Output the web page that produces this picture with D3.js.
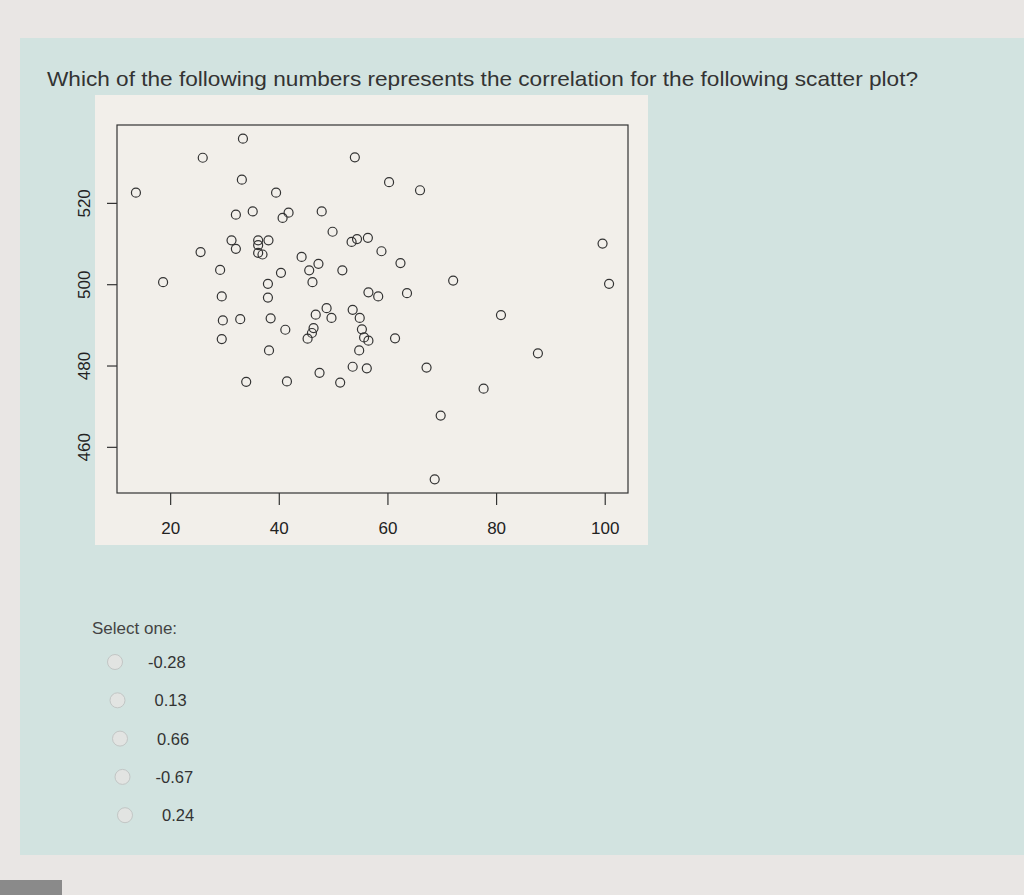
<!DOCTYPE html>
<html><head><meta charset="utf-8">
<script src="https://cdn.jsdelivr.net/npm/d3@7"></script>
<style>body{margin:0;background:#e9e6e4;overflow:hidden}svg{display:block}</style>
</head><body>
<script>
const xValues = [33.4,26.0,54.0,33.2,60.3,66.0,13.7,39.5,32.1,35.2,40.7,41.8,47.9,49.9,31.3,32.1,36.2,38.1,36.2,36.2,37.0,25.6,53.4,54.4,56.4,58.9,44.2,62.4,47.3,29.2,40.4,45.6,51.7,18.7,38.0,46.2,72.1,56.5,58.3,63.6,29.5,38.0,48.8,49.7,46.8,53.6,54.9,55.3,55.7,56.5,46.4,46.1,45.3,61.4,29.7,32.9,38.5,41.2,29.5,38.2,54.8,53.6,56.2,47.5,51.3,34.0,41.5,67.2,99.6,100.8,80.9,87.7,77.7,69.8,68.7];
const yValues = [535.8,531.1,531.2,525.7,525.1,523.1,522.5,522.5,517.1,517.9,516.3,517.6,517.9,512.9,510.8,508.7,510.8,510.8,509.6,507.7,507.3,507.9,510.4,511.1,511.4,508.1,506.7,505.2,505.0,503.5,502.8,503.4,503.4,500.5,500.1,500.5,500.9,498.0,497.0,497.8,497.0,496.7,494.1,491.7,492.5,493.7,491.7,488.9,486.9,486.1,489.2,488.0,486.6,486.7,491.1,491.4,491.6,488.8,486.5,483.7,483.7,479.7,479.3,478.2,475.8,476.0,476.1,479.5,510.0,500.1,492.4,483.0,474.3,467.7,452.0];
const xTicks = [20,40,60,80,100];
const yTicks = [460,480,500,520];
const titleText = "Which of the following numbers represents the correlation for the following scatter plot?";
const promptText = "Select one:";
const options = ["-0.28","0.13","0.66","-0.67","0.24"];

const W = 1024, H = 895;
const svg = d3.select("body").append("svg").attr("width", W).attr("height", H);
const font = "'Liberation Sans', Arial, sans-serif";

// page background
svg.append("rect").attr("x",0).attr("y",0).attr("width",W).attr("height",H).attr("fill","#e9e6e4");
svg.append("rect").attr("x",20).attr("y",38).attr("width",W-20).attr("height",817).attr("fill","#d2e3e0");
svg.append("rect").attr("x",0).attr("y",880).attr("width",62).attr("height",15).attr("fill","#8a8a8a");

svg.append("text").attr("x",47).attr("y",86).attr("font-family",font).attr("font-size",21)
  .attr("textLength",871).attr("lengthAdjust","spacingAndGlyphs")
  .attr("fill","#333").text(titleText);

// plot image background
svg.append("rect").attr("x",95).attr("y",95).attr("width",553).attr("height",450).attr("fill","#f2efea");

// R style padded domain
function pad(ext){const r=ext[1]-ext[0];return [ext[0]-0.04*r, ext[1]+0.04*r];}
const L=117, R=628, T=125, B=493;
const x = d3.scaleLinear().domain(pad(d3.extent(xValues))).range([L,R]);
const y = d3.scaleLinear().domain(pad(d3.extent(yValues))).range([B,T]);

svg.append("rect").attr("x",L).attr("y",T).attr("width",R-L).attr("height",B-T)
  .attr("fill","none").attr("stroke","#333").attr("stroke-width",1.2);

const gx = svg.append("g").attr("transform",`translate(0,${B})`)
  .call(d3.axisBottom(x).tickValues(xTicks).tickSize(12).tickPadding(17).tickFormat(d3.format("d")));
gx.select(".domain").remove();
gx.selectAll("line").attr("stroke","#333").attr("stroke-width",1.2);
gx.selectAll("text").attr("font-family",font).attr("font-size",17).attr("fill","#222");

const gy = svg.append("g").attr("transform",`translate(${L},0)`)
  .call(d3.axisLeft(y).tickValues(yTicks).tickSize(10).tickPadding(0).tickFormat(d3.format("d")));
gy.select(".domain").remove();
gy.selectAll("line").attr("stroke","#333").attr("stroke-width",1.2);
gy.selectAll("text").attr("font-family",font).attr("font-size",17).attr("fill","#222")
  .attr("text-anchor","middle").attr("transform","rotate(-90)")
  .attr("x", 0).attr("y", -33).attr("dy","0.35em");

const pts = xValues.map((v,i)=>({x:v,y:yValues[i]}));
svg.append("g").selectAll("circle").data(pts).join("circle")
  .attr("cx",d=>x(d.x)).attr("cy",d=>y(d.y)).attr("r",4.5)
  .attr("fill","none").attr("stroke","#333").attr("stroke-width",1.2);

// answer options
svg.append("text").attr("x",92).attr("y",634).attr("font-family",font).attr("font-size",17)
  .attr("fill","#444").text(promptText);
const og = svg.append("g");
options.forEach((o,i)=>{
  const cy = 662 + i*38.3, cx = 115 + i*2.5;
  og.append("circle").attr("cx",cx).attr("cy",cy).attr("r",7.5).attr("fill","#e2e4e2").attr("stroke","#c2c6c5").attr("stroke-width",1);
  og.append("text").attr("x",cx+33 + (o.startsWith("-")?0:4)).attr("y",cy+6).attr("font-family",font).attr("font-size",16.5)
    .attr("fill","#333").text(o);
});
</script>
</body></html>
